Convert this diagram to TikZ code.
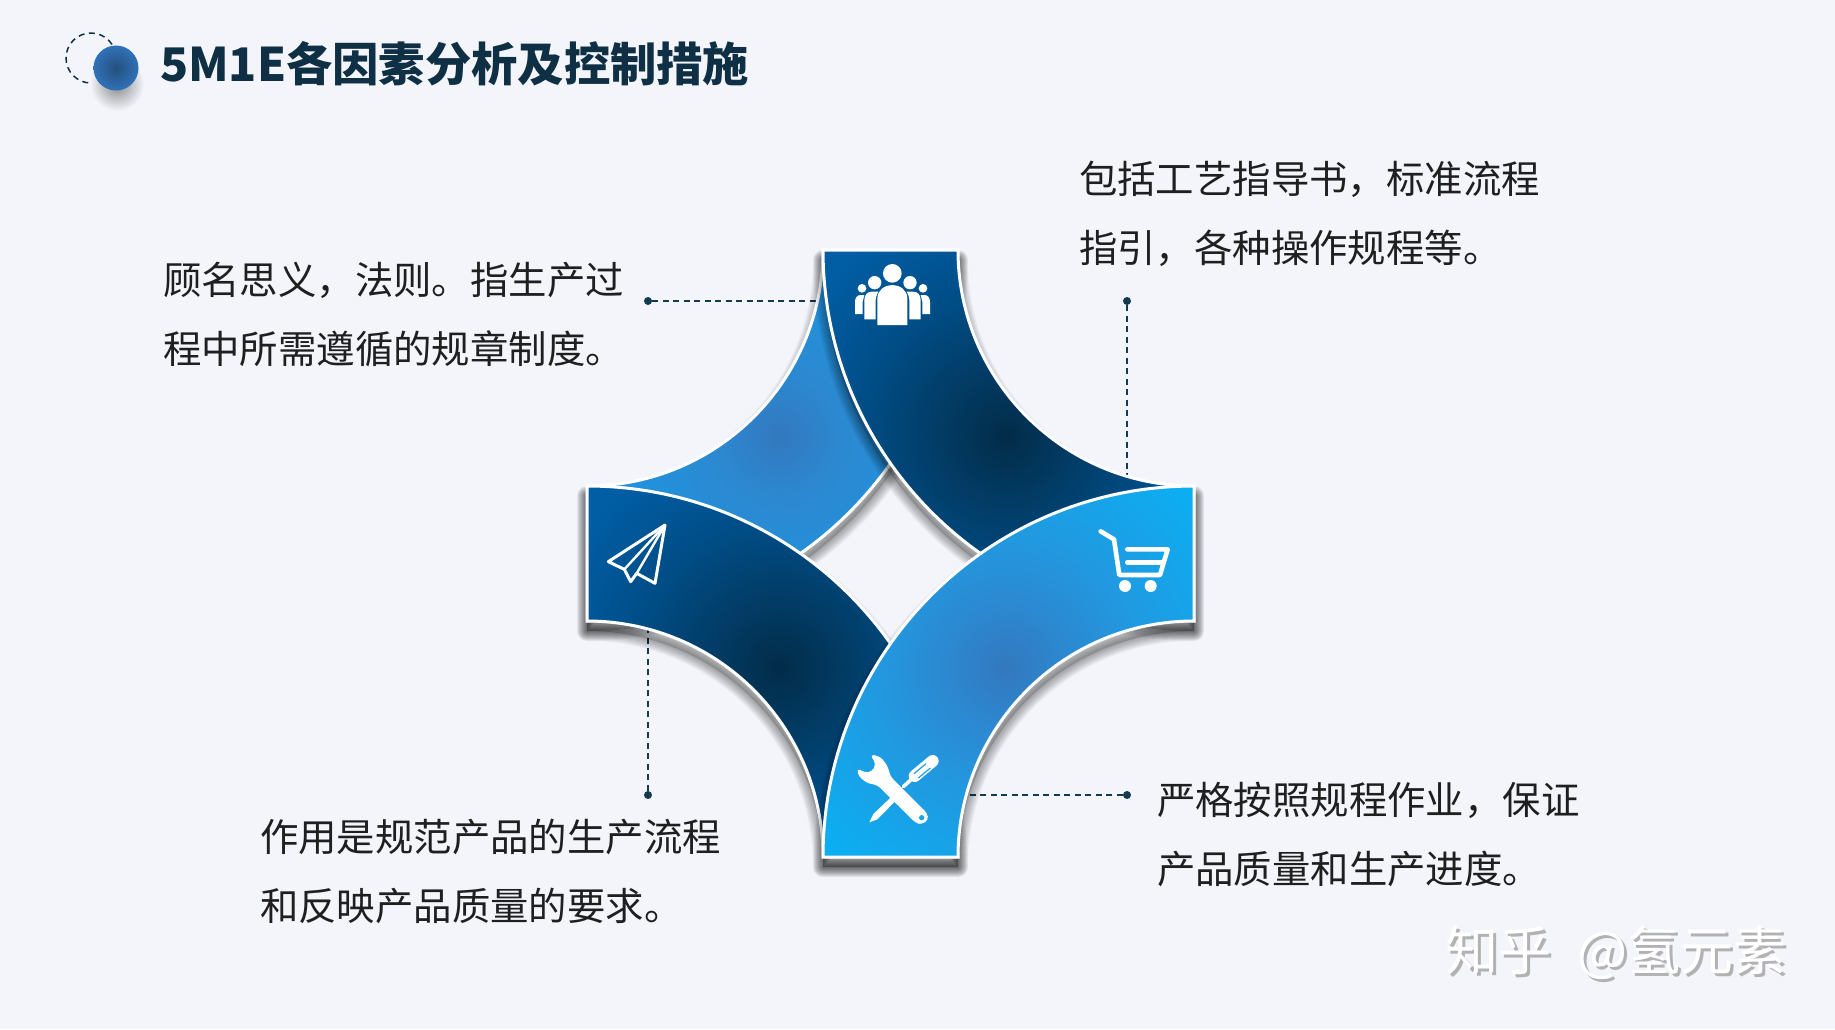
\documentclass[tikz,border=0pt]{standalone}
\usepackage{fontspec}
\setmainfont{Noto Sans CJK SC}
\usetikzlibrary{positioning}

\definecolor{pagebg}{HTML}{F3F5FA}
\definecolor{inkdark}{HTML}{0F2F45}
\definecolor{dotline}{HTML}{123B52}
\definecolor{slitblue}{HTML}{1FA2EA}

% glow of the four ribbons, 1bp is 12 units at radius 300
\pgfdeclareradialshading{glowdark}{\pgfpointorigin}{
	color(0bp)=(rgb,255:red,2;green,44;blue,72);
	color(5bp)=(rgb,255:red,2;green,58;blue,98);
	color(12.5bp)=(rgb,255:red,0;green,78;blue,136);
	color(20bp)=(rgb,255:red,1;green,94;blue,165);
	color(50bp)=(rgb,255:red,1;green,96;blue,168)}
\pgfdeclareradialshading{glowmid}{\pgfpointorigin}{
	color(0bp)=(rgb,255:red,51;green,120;blue,190);
	color(5bp)=(rgb,255:red,44;green,136;blue,208);
	color(12.5bp)=(rgb,255:red,33;green,146;blue,221);
	color(50bp)=(rgb,255:red,28;green,152;blue,226)}
\pgfdeclareradialshading{glowlight}{\pgfpointorigin}{
	color(0bp)=(rgb,255:red,51;green,120;blue,190);
	color(5bp)=(rgb,255:red,44;green,136;blue,208);
	color(11bp)=(rgb,255:red,33;green,153;blue,224);
	color(21bp)=(rgb,255:red,12;green,174;blue,242);
	color(50bp)=(rgb,255:red,12;green,174;blue,242)}

\tikzset{
	notetext/.style={anchor=west, align=left, text=black!88,
		font=\fontsize{38.4}{69}\selectfont},
	titletext/.style={anchor=west, text=inkdark,
		font=\fontsize{46.3}{50}\selectfont\bfseries},
	marktext/.style={anchor=center, font=\fontsize{53}{57}\selectfont},
	leader/.style={dotline, line width=1.5pt, dash pattern=on 6pt off 4.5pt},
	enddot/.style={circle, fill=dotline, inner sep=0pt, minimum size=8pt},
	ribbonedge/.style={draw=white, line width=3pt, line join=miter},
	softshadow/.style={black, opacity=.035, line join=round},
	iconline/.style={white, line cap=round, line join=round}
}

% centre, start angle, end angle
\newcommand{\ribbonpath}[3]{(#1) ++(#2:236) arc[start angle=#2, end angle=#3, radius=236]
	-- ++(#3:135) arc[start angle=#3, end angle=#2, radius=371] -- cycle}

% centre, start angle, end angle, glow point, shading
\newcommand{\ribbon}[5]{
	\fill[black, opacity=.16, shift={(0,10)}] \ribbonpath{#1}{#2}{#3};
	\foreach \w in {20,18,16,14,12,10,8,6,4,2}
		\draw[softshadow, line width=\w pt, shift={(0,10)}] \ribbonpath{#1}{#2}{#3};
	\begin{scope}
		\clip \ribbonpath{#1}{#2}{#3};
		\shade[shading=#5] (#4) circle (300);
	\end{scope}
	\path[ribbonedge] \ribbonpath{#1}{#2}{#3};
}

\begin{document}
\begin{tikzpicture}[x=1pt, y=-1pt]
	\useasboundingbox (0,0) rectangle (1835,1029);
	\fill[pagebg] (0,0) rectangle (1835,1029);
	
	%title mark
	\draw[inkdark, line width=1.5pt, dash pattern=on 6pt off 4.5pt] (91,58) circle (25);
	\shade[inner color=black!45!pagebg, outer color=pagebg] (117,84) circle (27);
	\shade[inner color={rgb,255:red,38;green,80;blue,125}, outer color={rgb,255:red,47;green,114;blue,184}] (116,68) circle (22.5);
	\node[titletext] (title) at (156.5,64) {5M1E各因素分析及控制措施};
	
	%leaders
	\node[enddot] (dotrules) at (648,301) {};
	\node[enddot] (dotdocs) at (1127,301) {};
	\node[enddot] (dotrole) at (648,795) {};
	\node[enddot] (dotwork) at (1127,795) {};
	\coordinate (endrules) at (830,301);
	\coordinate (enddocs) at (1127,490);
	\coordinate (endrole) at (648,625);
	\coordinate (endwork) at (950,795);
	\draw[leader] (dotrules) -- (endrules);
	\draw[leader] (dotdocs) -- (enddocs);
	\draw[leader] (dotrole) -- (endrole);
	\draw[leader] (dotwork) -- (endwork);
	
	%ribbons
	\ribbon{587,250}{0}{90}{779,436}{glowmid}
	\ribbon{1194,250}{180}{90}{1006,436}{glowdark}
	\ribbon{587,857}{270}{360}{779,668}{glowdark}
	\ribbon{1194,857}{180}{270}{1006,668}{glowlight}
	
	%people
	\begin{scope}[shift={(830,240)}, scale=1/3, white]
		\fill (187,100) circle (28);
		\fill (134,128) circle (20);
		\fill (240,128) circle (20);
		\fill (96,145) circle (13);
		\fill (279,145) circle (13);
		\fill (142,255) -- (142,175) .. controls (142,150) and (165,135) .. (187,135) .. controls (209,135) and (232,150) .. (232,175) -- (232,255) -- cycle;
		\fill (103,238) -- (103,180) .. controls (103,165) and (112,155) .. (125,155) -- (145,155) .. controls (140,165) and (137,172) .. (137,180) -- (137,238) -- cycle;
		\fill (272,238) -- (272,180) .. controls (272,165) and (263,155) .. (250,155) -- (230,155) .. controls (235,165) and (238,172) .. (238,180) -- (238,238) -- cycle;
		\fill (75,222) -- (75,185) .. controls (75,173) and (82,165) .. (92,165) -- (103,165) -- (98,185) -- (98,222) -- cycle;
		\fill (300,222) -- (300,185) .. controls (300,173) and (293,165) .. (283,165) -- (272,165) -- (277,185) -- (277,222) -- cycle;
	\end{scope}
	
	%cart
	\begin{scope}[shift={(1080,510)}, scale=1/3]
		\draw[iconline, line width=4.6pt] (62,64) -- (102,88) -- (118,195) -- (240,195) -- (263,118) -- (142,118);
		\draw[iconline, line width=4.6pt] (142,157) -- (250,157);
		\fill[white] (135,228) circle (18);
		\fill[white] (212,228) circle (18);
	\end{scope}
	
	%plane
	\begin{scope}[shift={(590,510)}, scale=1/3]
		\draw[iconline, line width=3pt] (225,45) -- (55,155) -- (103,178) -- (122,215) -- (140,190) -- (195,220) -- cycle;
		\draw[iconline, line width=2.4pt] (225,45) -- (103,178);
		\draw[iconline, line width=2.4pt] (225,45) -- (140,190);
	\end{scope}
	
	%tools
	\begin{scope}[shift={(840,740)}, scale=1/3]
		\fill[white] (88,247) -- (100,222) -- (160,165) -- (172,177) -- (112,238) -- cycle;
		\draw[iconline, line width=3.6pt] (190,140) -- (212,120);
		\draw[iconline, line width=12pt] (224,108) -- (278,63);
		\draw[slitblue, line width=1.2pt] (222,101) -- (258,71);
		\draw[slitblue, line width=1.2pt] (235,114) -- (271,84);
		\fill[white, rounded corners=4pt] (90,43) -- (122,50) -- (145,82) -- (150,108) -- (262,220) -- (265,240)
			-- (245,254) -- (226,248) -- (112,135) -- (82,130) -- (55,108) -- (51,84) -- (74,98) -- (96,95) -- (108,72) -- cycle;
		\fill[slitblue] (245,233) circle (8);
	\end{scope}
	
	%notes
	\node[notetext] (rules) at (159.5,314) {顾名思义，法则。指生产过\\程中所需遵循的规章制度。};
	\node[notetext] (docs) at (1075.5,214) {包括工艺指导书，标准流程\\指引，各种操作规程等。};
	\node[notetext] (role) at (256.5,871) {作用是规范产品的生产流程\\和反映产品质量的要求。};
	\node[notetext] (work) at (1153.5,834) {严格按照规程作业，保证\\产品质量和生产进度。};
	
	%watermark
	\node[marktext, black!30] (markshade) at (1619,956) {知乎\hspace{14pt} @氢元素};
	\node[marktext, white] (mark) at (1616,953) {知乎\hspace{14pt} @氢元素};
\end{tikzpicture}
\end{document}
